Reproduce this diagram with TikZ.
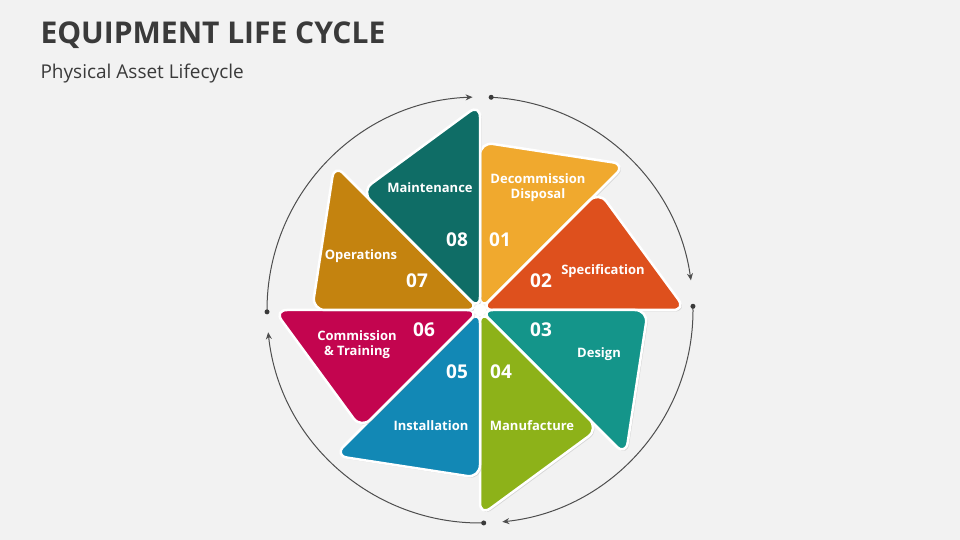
\documentclass[tikz,border=0pt]{standalone}
\usepackage{fontspec}
\setmainfont{Open Sans}
\usetikzlibrary{shadows,arrows.meta,calc}
\definecolor{bg}{HTML}{F2F2F2}
\definecolor{cA}{HTML}{F0A92E}
\definecolor{cB}{HTML}{DE501D}
\definecolor{cC}{HTML}{14958A}
\definecolor{cD}{HTML}{8DB219}
\definecolor{cE}{HTML}{1288B5}
\definecolor{cF}{HTML}{C3054F}
\definecolor{cG}{HTML}{C4830F}
\definecolor{cH}{HTML}{0F6D66}
\definecolor{ttl}{HTML}{3A3A3A}
\tikzset{
 petal/.style={fill=#1,draw=white,line width=2.5pt,rounded corners=13pt,drop shadow={opacity=0.25,shadow xshift=1.5pt,shadow yshift=-1.5pt}},
 lbl/.style={text=white,font=\fontsize{13}{15}\selectfont\bfseries,align=center},
 num/.style={text=white,font=\fontsize{19}{21}\selectfont\bfseries},
 ring/.style={draw=ttl!90,line width=1pt},
 dot/.style={circle,fill=ttl,inner sep=0pt,minimum size=5pt}
}
\begin{document}
\begin{tikzpicture}[x=1pt,y=1pt]
\useasboundingbox[fill=bg] (0,0) rectangle (960,540);
\coordinate (c) at (480,230);
\node[anchor=west,text=ttl,font=\fontsize{30}{34}\selectfont\bfseries] (title) at (37,505) {EQUIPMENT LIFE CYCLE};
\node[anchor=west,text=ttl,font=\fontsize{19}{22}\selectfont] (sub) at (37,466) {Physical Asset Lifecycle};
% ring
\def\R{213}
\foreach \s/\e [count=\i] in {87/8, 1/-84, -89/-174, 180.5/92}{
  \draw[ring,-{Stealth[length=7pt,width=6pt]}] ($(c)+(\s:\R)$) arc[start angle=\s,end angle=\e,radius=\R];
  \node[dot] (d\i) at ($(c)+(\s:\R)$) {};
}
% petals
\foreach \a/\col in {90/cA,45/cB,0/cC,-45/cD,-90/cE,-135/cF,180/cG,135/cH}{
  \path[petal=\col] (c) -- ($(c)+(\a:168)$) -- ($(c)+(\a-45:206)$) -- cycle;
}
\fill[white] (c) circle (6);
% labels
\node[lbl] (l1) at (538,352) {Decommission\\Disposal};
\node[num] (n1) at (500,300) {01};
\node[num] (n2) at (541,259) {02};
\node[lbl] (l2) at (603,269) {Specification};
\node[num] (n3) at (541,210) {03};
\node[lbl] (l3) at (599,186) {Design};
\node[num] (n4) at (501,168) {04};
\node[lbl] (l4) at (532,114) {Manufacture};
\node[num] (n5) at (457,168) {05};
\node[lbl] (l5) at (431,114) {Installation};
\node[num] (n6) at (424,210) {06};
\node[lbl] (l6) at (357,195) {Commission\\\& Training};
\node[num] (n7) at (417,259) {07};
\node[lbl] (l7) at (361,284) {Operations};
\node[num] (n8) at (457,300) {08};
\node[lbl] (l8) at (430,352) {Maintenance};
\end{tikzpicture}
\end{document}
